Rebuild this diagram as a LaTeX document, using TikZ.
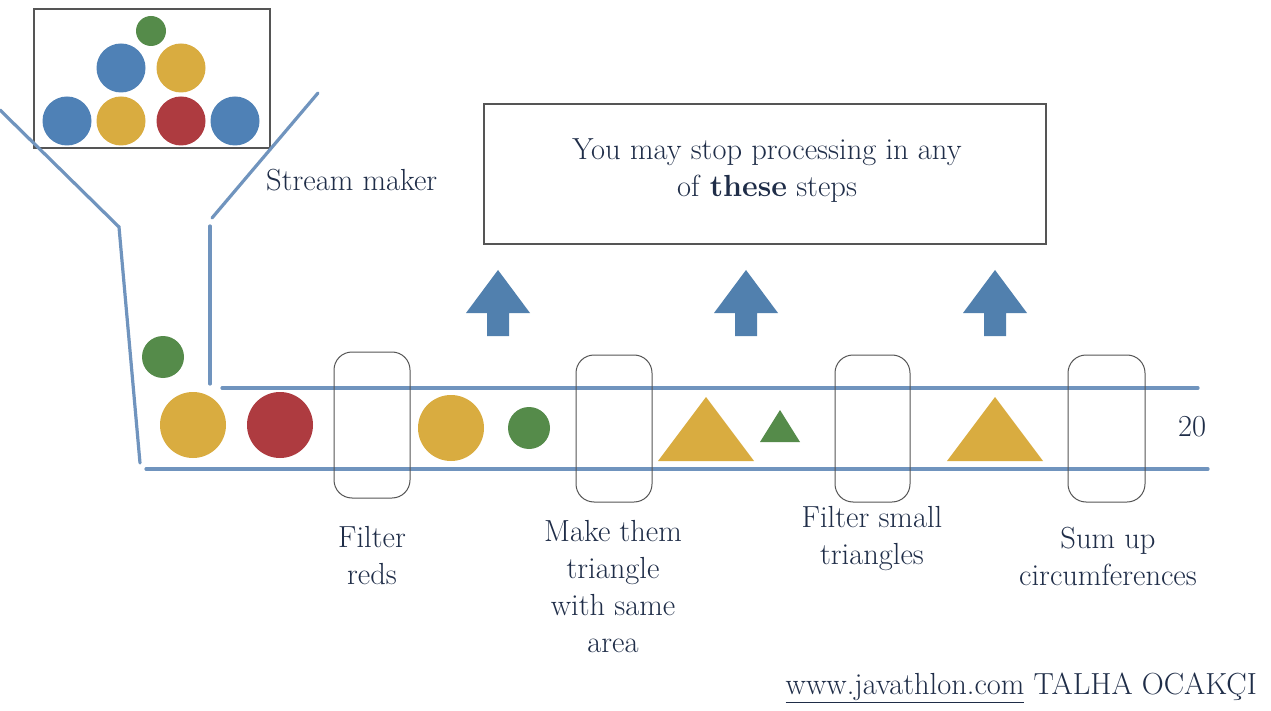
\documentclass[tikz,border=0pt]{standalone}
\usetikzlibrary{shapes.geometric}
\definecolor{ballblue}{HTML}{4F81B6}
\definecolor{ballyellow}{HTML}{D9AC40}
\definecolor{ballred}{HTML}{AE3B40}
\definecolor{ballgreen}{HTML}{558B4A}
\definecolor{pipe}{HTML}{7094BE}
\definecolor{arrowblue}{HTML}{5180AE}
\definecolor{txt}{HTML}{1F2D48}
\definecolor{frame}{HTML}{555555}
\begin{document}
\begin{tikzpicture}[x=1pt,y=-1pt,
  ball/.style={circle,inner sep=0pt,minimum size=#1},
  pipeline/.style={draw=pipe,line width=3.2pt,line cap=round},
  stepbox/.style={draw=frame,line width=1pt,rounded corners=18pt},
  lbl/.style={text=txt,font=\fontsize{30.5}{37}\selectfont,align=center,inner sep=0pt},
  uparrow/.style={fill=arrowblue}]
\useasboundingbox (0,0) rectangle (1271,711);
\fill[white] (0,0) rectangle (1271,711);
% top box with balls
\draw[frame,line width=1.2pt] (34,9) rectangle (270,148);
\node[ball=30pt,fill=ballgreen] (g0) at (151,31) {};
\node[ball=49pt,fill=ballblue] (b1) at (121,68) {};
\node[ball=49pt,fill=ballyellow] (y1) at (181,68) {};
\node[ball=49pt,fill=ballblue] (b2) at (67,121) {};
\node[ball=49pt,fill=ballyellow] (y2) at (121,121) {};
\node[ball=49pt,fill=ballred] (r1) at (181,121) {};
\node[ball=49pt,fill=ballblue] (b3) at (235,121) {};
% funnel
\draw[pipeline] (0,110) -- (119,227) -- (140,463);
\draw[pipeline] (318,93) -- (212,218);
\draw[pipeline] (210,226) -- (210,384);
% tube
\draw[pipeline] (222,388) -- (1198,388);
\draw[pipeline] (146,469) -- (1208,469);
\node[lbl,anchor=west] (sm) at (266,180) {Stream maker};
% balls in tube
\node[ball=42pt,fill=ballgreen] (g1) at (163,357) {};
\node[ball=66pt,fill=ballyellow] (y3) at (193,425) {};
\node[ball=66pt,fill=ballred] (r2) at (280,425) {};
\node[ball=66pt,fill=ballyellow] (y4) at (451,428) {};
\node[ball=42pt,fill=ballgreen] (g2) at (529,428) {};
\fill[ballyellow] (658,461) -- (706,397) -- (754,461) -- cycle;
\fill[ballgreen] (760,442) -- (780,410) -- (800,442) -- cycle;
\fill[ballyellow] (947,461) -- (995,397) -- (1043,461) -- cycle;
\node[lbl] (n20) at (1192,427) {20};
% step boxes
\draw[stepbox] (334,352) rectangle (410,498);
\draw[stepbox] (576,355) rectangle (652,502);
\draw[stepbox] (835,355) rectangle (910,502);
\draw[stepbox] (1068,355) rectangle (1145,502);
% labels
\node[lbl] (l1) at (372,556) {Filter\\reds};
\node[lbl] (l2) at (613,587) {Make them\\triangle\\with same\\area};
\node[lbl] (l3) at (872,539) {Filter small\\triangles};
\node[lbl] (l4) at (1108,556) {Sum up\\circumferences};
% arrows
\foreach \cx in {498,746,995}{
  \fill[uparrow] (\cx-32,313) -- (\cx,270) -- (\cx+32,313) -- (\cx+11,313) -- (\cx+11,336) -- (\cx-11,336) -- (\cx-11,313) -- cycle;
}
% message box
\draw[frame,line width=1.2pt] (484,104) rectangle (1046,244);
\node[lbl] (msg) at (767,171) {You may stop processing in any\\of \textbf{these} steps};
% footer
\node[lbl,anchor=east] (ft) at (1257,688) {\underline{www.javathlon.com} TALHA OCAKÇI};
\end{tikzpicture}
\end{document}
